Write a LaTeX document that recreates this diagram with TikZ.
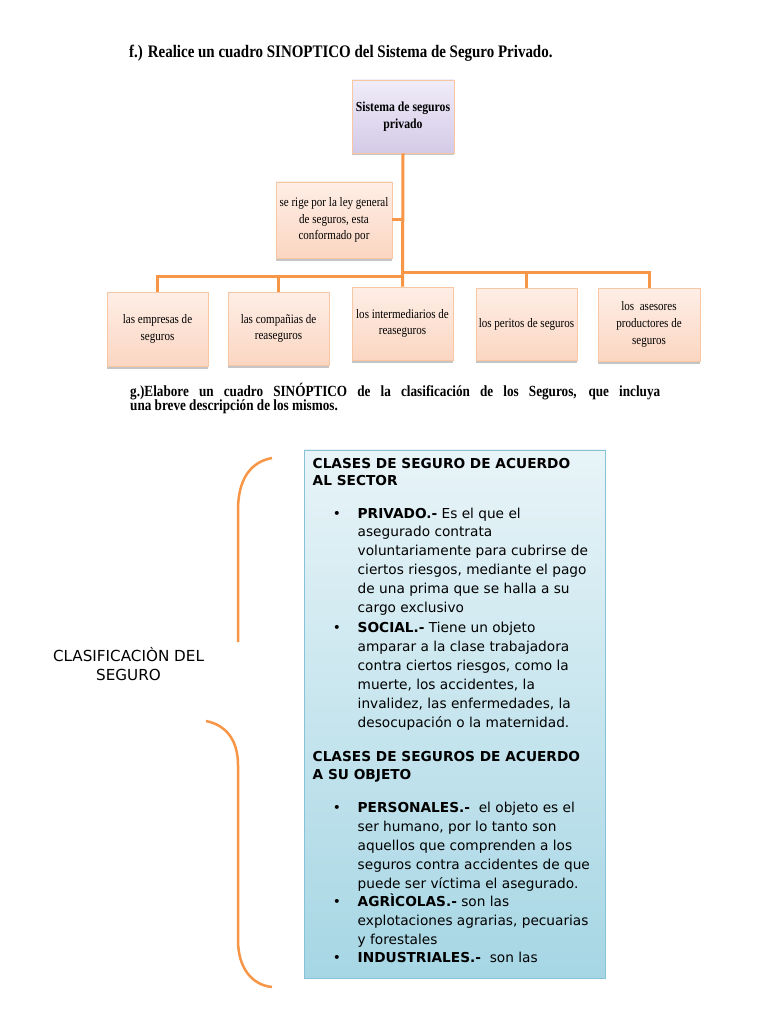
\documentclass[tikz,border=0pt]{standalone}
\usepackage{fontspec}
\setmainfont{Liberation Serif}
\newfontfamily\cserif[FakeStretch=0.85]{Liberation Serif}
\newfontfamily\dejavu{DejaVu Sans}
\usetikzlibrary{shadows}
\definecolor{connorange}{HTML}{F79646}
\definecolor{peachborder}{HTML}{F6C7A2}
\definecolor{peachtop}{HTML}{FEEEE6}
\definecolor{peachbot}{HTML}{FBD6C2}
\definecolor{lavtop}{HTML}{F0ECF8}
\definecolor{lavbot}{HTML}{D4CAE8}
\definecolor{bluetop}{HTML}{E8F4F8}
\definecolor{bluebot}{HTML}{A6D6E4}
\definecolor{blueborder}{HTML}{86C3D8}
\begin{document}
\begin{tikzpicture}[x=1pt,y=-1pt,
  pbox/.style={draw=peachborder, line width=0.8pt, top color=peachtop, bottom color=peachbot,
    inner sep=1pt, align=center, font=\cserif\fontsize{13}{16.7}\selectfont,
    drop shadow={shadow xshift=0pt, shadow yshift=-2.5pt, fill=black!45}},
  topbox/.style={pbox, top color=lavtop, bottom color=lavbot, font=\cserif\bfseries\fontsize{13.8}{17.5}\selectfont},
  link/.style={draw=connorange, line width=3pt},
  brace/.style={draw=connorange, line width=2.5pt},
  headtxt/.style={anchor=base west, inner sep=0pt, font=\cserif\bfseries\fontsize{15.5}{14}\selectfont},
  bluetxt/.style={anchor=base west, inner sep=0pt, font=\dejavu\fontsize{13.7}{18.9}\selectfont},
  headblue/.style={anchor=base west, inner sep=0pt, font=\dejavu\bfseries\fontsize{13.7}{17.7}\selectfont},
  bul/.style={anchor=base, inner sep=0pt, font=\dejavu\fontsize{13.7}{18.9}\selectfont}]
\useasboundingbox[fill=white] (0,0) rectangle (768,1024);

% title f
\node[headtxt, font=\cserif\bfseries\fontsize{17.6}{18}\selectfont] (tf) at (129,58) {f.) Realice un cuadro SINOPTICO del Sistema de Seguro Privado.};

% first chart
\node[topbox, minimum width=102pt, minimum height=73pt] (top) at (403,116.5) {Sistema de seguros\\privado};
\node[pbox, minimum width=116pt, minimum height=76pt] (rige) at (334,220) {se rige por la ley general\\de seguros, esta\\conformado por};
\node[pbox, minimum width=101pt, minimum height=74pt] (e1) at (157.5,329) {las empresas de\\seguros};
\node[pbox, minimum width=101pt, minimum height=73pt] (e2) at (278.5,328.5) {las compañias de\\reaseguros};
\node[pbox, minimum width=101pt, minimum height=73pt] (e3) at (402.5,323.5) {los intermediarios de\\reaseguros};
\node[pbox, minimum width=101pt, minimum height=72pt] (e4) at (526.5,324) {los peritos de seguros};
\node[pbox, minimum width=102pt, minimum height=73pt] (e5) at (649,324.5) {los\ \ asesores\\productores de\\seguros};

\coordinate (jl) at (403,276);
\coordinate (jr) at (403,272);
\draw[link] (top.south) -- (e3.north);
\draw[link] (rige.east) -- (rige.east -| top.south);
\draw[link] (e1.north) |- (jl);
\draw[link] (e2.north) -- (e2.north |- jl);
\draw[link] (e5.north) |- (jr);
\draw[link] (e4.north) -- (e4.north |- jr);

% title g
\node[headtxt] (tg1) at (130,396) {\makebox[530pt][s]{g.)Elabore un cuadro SINÓPTICO de la clasificación de los Seguros, que incluya}};
\node[headtxt] (tg2) at (130,410) {una breve descripción de los mismos.};

% left label
\node[inner sep=0pt, anchor=base, font=\dejavu\fontsize{15.2}{18.3}\selectfont] (lab) at (128.5,661.7) {\begin{tabular}[t]{@{}c@{}}CLASIFICACIÒN DEL\\SEGURO\end{tabular}};

% braces
\draw[brace] (272,458) .. controls (250,462) and (238,480) .. (238,510) -- (238,642);
\draw[brace] (206,721) .. controls (226,725) and (238,740) .. (238,765) -- (238,940) .. controls (238,968) and (252,985) .. (272,987);

% blue box
\node[draw=blueborder, line width=0.8pt, top color=bluetop, bottom color=bluebot, anchor=north west,
  minimum width=301pt, minimum height=528.5pt, inner sep=0pt] (bb) at (304,449.5) {};

\node[headblue] (h1) at (312.5,468) {\begin{tabular}[t]{@{}l@{}}CLASES DE SEGURO DE ACUERDO\\AL SECTOR\end{tabular}};

\node[bul] (b1) at (337,518) {•};
\node[bluetxt] (p1) at (357.5,518) {\begin{tabular}[t]{@{}l@{}}\textbf{PRIVADO.-} Es el que el\\asegurado contrata\\voluntariamente para cubrirse de\\ciertos riesgos, mediante el pago\\de una prima que se halla a su\\cargo exclusivo\end{tabular}};
\node[bul] (b2) at (337,632.7) {•};
\node[bluetxt] (p2) at (357.5,632.7) {\begin{tabular}[t]{@{}l@{}}\textbf{SOCIAL.-} Tiene un objeto\\amparar a la clase trabajadora\\contra ciertos riesgos, como la\\muerte, los accidentes, la\\invalidez, las enfermedades, la\\desocupación o la maternidad.\end{tabular}};

\node[headblue] (h2) at (312.5,761.7) {\begin{tabular}[t]{@{}l@{}}CLASES DE SEGUROS DE ACUERDO\\A SU OBJETO\end{tabular}};

\node[bul] (b3) at (337,812.7) {•};
\node[bluetxt] (p3) at (357.5,812.7) {\begin{tabular}[t]{@{}l@{}}\textbf{PERSONALES.-}\ \ el objeto es el\\ser humano, por lo tanto son\\aquellos que comprenden a los\\seguros contra accidentes de que\\puede ser víctima el asegurado.\end{tabular}};
\node[bul] (b4) at (337,906.7) {•};
\node[bluetxt] (p4) at (357.5,906.7) {\begin{tabular}[t]{@{}l@{}}\textbf{AGRÌCOLAS.-} son las\\explotaciones agrarias, pecuarias\\y forestales\end{tabular}};
\node[bul] (b5) at (337,962.3) {•};
\node[bluetxt] (p5) at (357.5,962.3) {\textbf{INDUSTRIALES.-}\ \ son las};
\end{tikzpicture}
\end{document}
